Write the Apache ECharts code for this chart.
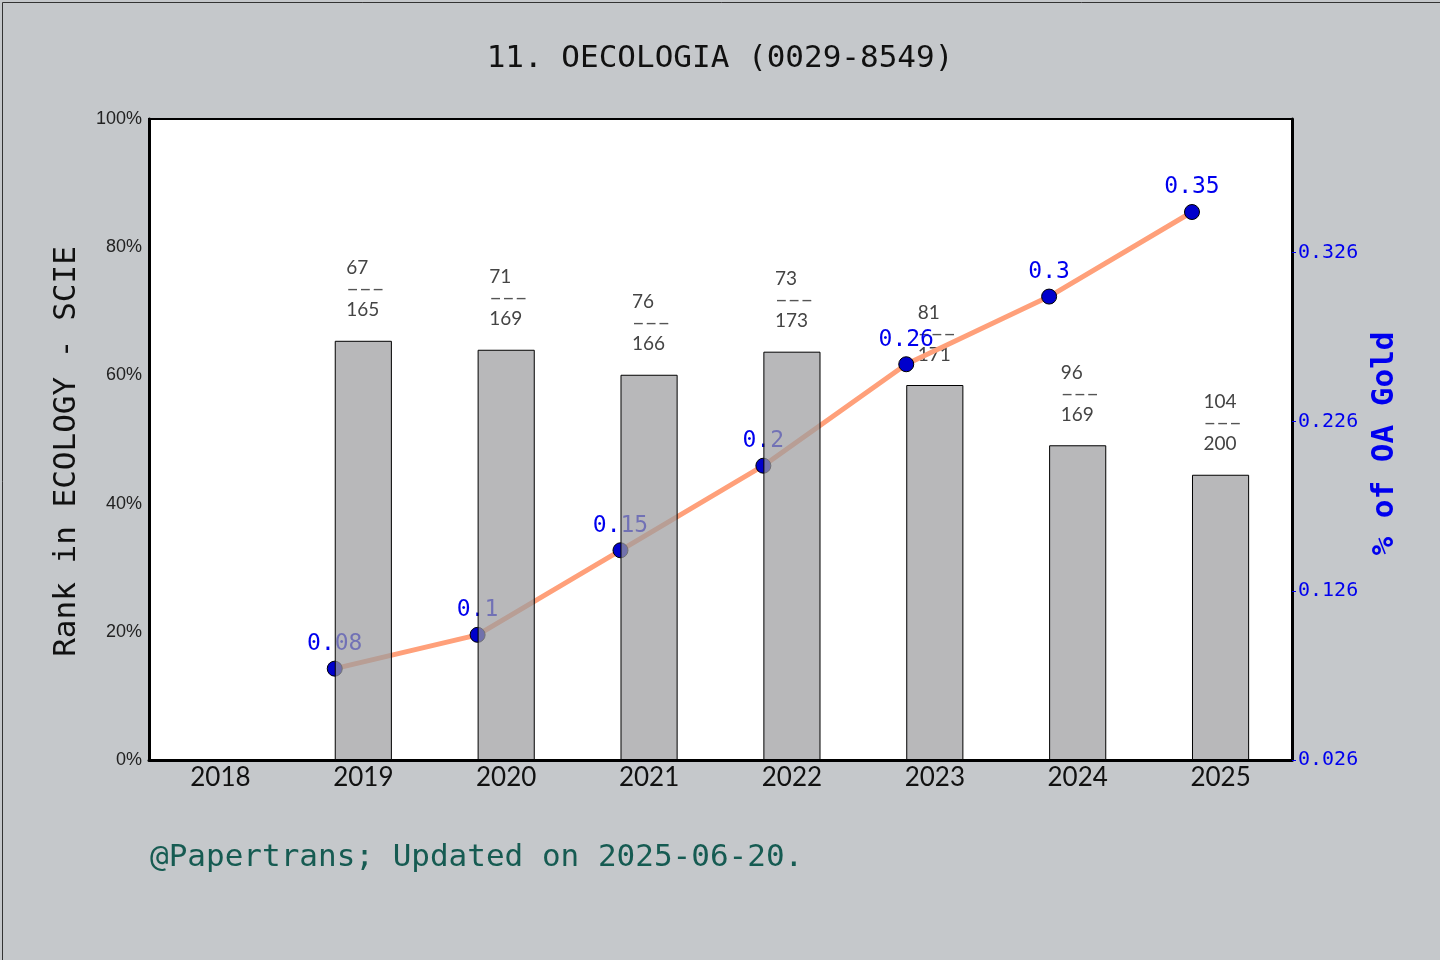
<!DOCTYPE html>
<html>
<head>
<meta charset="utf-8">
<script src="https://cdn.jsdelivr.net/npm/echarts@6/dist/echarts.min.js"></script>
<style>
  html, body { margin: 0; padding: 0; background: #c5c8cb; }
  #chart { width: 1440px; height: 960px; }
</style>
</head>
<body>
<div id="chart"></div>
<script>
const years = ['2018', '2019', '2020', '2021', '2022', '2023', '2024', '2025'];
// bar height in % (left axis), null = no bar
const rankPct = [null, 65.4, 64.0, 60.1, 63.7, 58.5, 49.1, 44.5];
const ranks = [null, 67, 71, 76, 73, 81, 96, 104];
const totals = [null, 165, 169, 166, 173, 171, 169, 200];
// % of OA Gold (right axis)
const oaGold = [null, 0.08, 0.1, 0.15, 0.2, 0.26, 0.3, 0.35];
const leftTicks = [0, 20, 40, 60, 80, 100];
const rightMin = 0.026;
const rightMax = 0.405;
const rightStep = 0.1;

const MONO = '"DejaVu Sans Mono", "Liberation Mono", monospace';
const LINE_SHIFT = -0.2; // line points sit left of bar centres

const chart = echarts.init(document.getElementById('chart'));

const lineData = [];
oaGold.forEach((v, i) => { if (v != null) lineData.push([i + LINE_SHIFT, v]); });

const labelData = rankPct.map((v, i) => ({
  value: v,
  rank: ranks[i],
  total: totals[i]
}));

const option = {
  backgroundColor: '#c5c8cb',
  animation: false,
  title: [
    {
      text: '11. OECOLOGIA (0029-8549)',
      left: 'center',
      top: 38,
      textStyle: { fontFamily: MONO, fontSize: 31, fontWeight: 'normal', color: '#111' }
    },
    {
      text: '@Papertrans; Updated on 2025-06-20.',
      left: 145,
      top: 837,
      textStyle: { fontFamily: MONO, fontSize: 31, fontWeight: 'normal', color: '#165b52' }
    }
  ],
  graphic: [{
    type: 'rect',
    left: 0, top: 0,
    shape: { width: 1439, height: 959 },
    style: { fill: 'none', stroke: '#333', lineWidth: 1 },
    z: 100
  }],
  grid: {
    left: 149, right: 148, top: 119, bottom: 200,
    show: true, backgroundColor: '#fff', borderColor: '#000', borderWidth: 2
  },
  xAxis: [
    {
      type: 'category',
      data: years,
      axisLine: { onZero: false, lineStyle: { color: '#000', width: 3 } },
      axisTick: { inside: true, length: 6, lineStyle: { color: '#000' } },
      axisLabel: { fontFamily: 'Lato', fontSize: 26, color: '#111', margin: 5 }
    },
    {
      type: 'value',
      min: -0.5, max: years.length - 0.5,
      show: false,
      axisLine: { onZero: false }
    }
  ],
  yAxis: [
    {
      type: 'value',
      min: leftTicks[0], max: leftTicks[leftTicks.length - 1], interval: 20,
      position: 'left',
      name: 'Rank in ECOLOGY - SCIE',
      nameLocation: 'middle',
      nameGap: 67,
      nameRotate: 90,
      nameTextStyle: { fontFamily: MONO, fontSize: 31, color: '#111', padding: [0, 24, 0, 0] },
      axisLine: { show: true, onZero: false, lineStyle: { color: '#000', width: 3 } },
      axisTick: { show: false },
      splitLine: { show: false },
      axisLabel: {
        fontFamily: '"Liberation Sans", Arial, sans-serif', fontSize: 18, color: '#222', margin: 7,
        formatter: v => v + '%'
      }
    },
    {
      type: 'value',
      min: rightMin, max: rightMax, interval: rightStep,
      position: 'right',
      name: '% of OA Gold',
      nameLocation: 'middle',
      nameGap: 66,
      nameRotate: 90,
      nameTextStyle: { fontFamily: MONO, fontSize: 31, fontWeight: 'bold', color: '#0000ee', padding: [0, 8, 0, 0] },
      axisLine: { show: true, onZero: false, lineStyle: { color: '#000', width: 3 } },
      axisTick: { show: true, length: 4, lineStyle: { color: '#0000ee' } },
      splitLine: { show: false },
      axisLabel: {
        fontFamily: MONO, fontSize: 20, color: '#0000ee', margin: 6,
        showMaxLabel: false,
        formatter: v => v.toFixed(3)
      }
    }
  ],
  series: [
    {
      // label carrier (drawn under the line)
      name: 'labels',
      type: 'bar',
      data: labelData,
      barWidth: '40%',
      barGap: '-100%',
      z: 1,
      itemStyle: { color: 'rgba(0,0,0,0)' },
      silent: true,
      label: {
        show: true,
        position: 'top',
        distance: 20,
        align: 'left',
        offset: [-17, 0],
        formatter: p => p.data.rank == null ? '' : '{n|' + p.data.rank + '}\n{d|–––}\n{n|' + p.data.total + '}',
        rich: {
          n: { fontFamily: 'Lato', fontSize: 19, color: '#444', lineHeight: 21 },
          d: { fontFamily: 'Lato', fontSize: 22, color: '#555', lineHeight: 21 }
        }
      }
    },
    {
      name: 'Rank',
      type: 'bar',
      data: rankPct,
      barWidth: '40%',
      barGap: '-100%',
      z: 3,
      itemStyle: { color: 'rgba(156,157,160,0.72)', borderColor: '#000', borderWidth: 1 }
    },
    {
      name: '% of OA Gold',
      type: 'line',
      xAxisIndex: 1,
      yAxisIndex: 1,
      data: lineData,
      z: 2,
      symbol: 'circle',
      symbolSize: 15,
      lineStyle: { color: '#ffa07a', width: 5 },
      itemStyle: { color: '#0000cc', borderColor: '#000', borderWidth: 1 },
      label: {
        show: true,
        position: 'top',
        distance: 5,
        fontFamily: MONO,
        fontSize: 23,
        color: '#0000ee',
        formatter: p => String(p.value[1])
      }
    }
  ]
};

chart.setOption(option);
</script>
</body>
</html>
